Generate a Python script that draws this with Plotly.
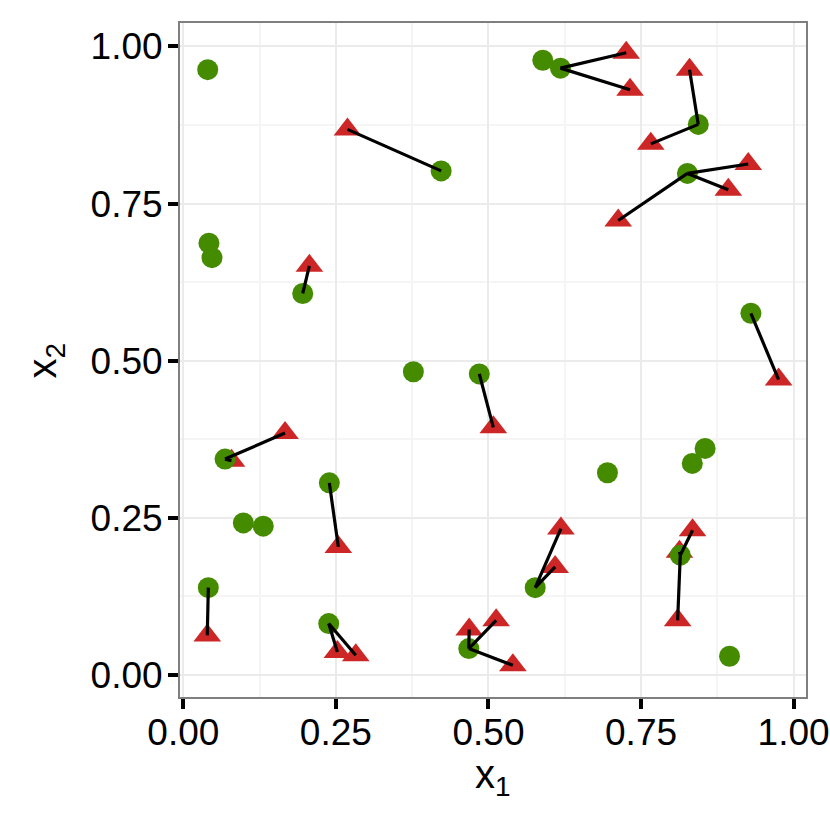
import numpy as np
from plotly import graph_objects as go

# Puntos verdes (circulos)
verde_x = [0.040, 0.4225, 0.042, 0.047, 0.1957, 0.589, 0.618, 0.8438, 0.826, 0.930,
           0.855, 0.834, 0.695, 0.5766, 0.8143, 0.895, 0.377, 0.485, 0.0684, 0.0984,
           0.131, 0.2393, 0.041, 0.2383, 0.4678]
verde_y = [0.963, 0.802, 0.687, 0.664, 0.607, 0.978, 0.9655, 0.876, 0.798, 0.5755,
           0.3605, 0.3366, 0.3217, 0.139, 0.1906, 0.0298, 0.4825, 0.479, 0.3435, 0.242,
           0.2368, 0.3057, 0.139, 0.0818, 0.042]

# Puntos rojos (triangulos)
rojo_x = [0.269, 0.2066, 0.7257, 0.732, 0.8295, 0.766, 0.9257, 0.893, 0.7126, 0.9754,
          0.6187, 0.6093, 0.8344, 0.813, 0.810, 0.540, 0.508, 0.1667, 0.079, 0.254,
          0.0393, 0.2525, 0.2826, 0.4684, 0.5126]
rojo_y = [0.868, 0.651, 0.990, 0.931, 0.963, 0.845, 0.813, 0.772, 0.723, 0.470,
          0.233, 0.172, 0.2304, 0.196, 0.087, 0.0155, 0.394, 0.385, 0.341, 0.2038,
          0.063, 0.0366, 0.0314, 0.0723, 0.087]

# Indice del punto verde al que se une cada triangulo
pareja = [1, 4, 6, 6, 7, 7, 8, 8, 8, 9,
          13, 13, 14, 14, 14, 24, 17, 18, 18, 21,
          22, 23, 23, 24, 24]

ticks = [0.00, 0.25, 0.50, 0.75, 1.00]
tick_txt = ["0.00", "0.25", "0.50", "0.75", "1.00"]

# Segmentos triangulo -> circulo
seg_x, seg_y = [], []
for i, j in enumerate(pareja):
    seg_x += [rojo_x[i], verde_x[j], None]
    seg_y += [rojo_y[i], verde_y[j], None]

fig = go.Figure()
fig.add_trace(go.Scatter(
    x=rojo_x, y=rojo_y, mode='markers',
    marker=dict(symbol='triangle-up', size=24, color='#CD2626', line=dict(width=0)),
    showlegend=False, hoverinfo='skip'
))
fig.add_trace(go.Scatter(
    x=verde_x, y=verde_y, mode='markers',
    marker=dict(symbol='circle', size=21, color='#458B00', line=dict(width=0)),
    showlegend=False, hoverinfo='skip'
))
fig.add_trace(go.Scatter(
    x=seg_x, y=seg_y, mode='lines',
    line=dict(color='black', width=3.2),
    showlegend=False, hoverinfo='skip'
))

eje = dict(
    tickmode='array', tickvals=ticks, ticktext=tick_txt,
    ticks='outside', ticklen=10, tickwidth=3.5, tickcolor='black',
    tickfont=dict(family='Liberation Sans', size=37, color='black'),
    showgrid=True, gridcolor='#EBEBEB', gridwidth=2,
    minor=dict(dtick=0.125, tick0=0, showgrid=True, gridcolor='#F5F5F5', gridwidth=1.5, ticks=''),
    showline=True, mirror=True, linecolor='#7F7F7F', linewidth=2,
    zeroline=False, automargin=False, ticklabeloverflow='allow',
)

fuente_titulo = dict(family='Liberation Sans', size=40, color='black')

fig.update_layout(
    width=830, height=830,
    margin=dict(l=180, r=24, t=23, b=133),
    plot_bgcolor='white', paper_bgcolor='white',
    xaxis=dict(eje, range=[-0.0054, 1.0203], ticklabelstandoff=-8),
    yaxis=dict(eje, range=[-0.035, 1.0373], ticklabelstandoff=-2),
    annotations=[
        dict(text='x<sub>1</sub>', xref='paper', yref='paper', x=0.5, y=-0.119,
             xanchor='center', yanchor='middle', showarrow=False, font=fuente_titulo),
        dict(text='x<sub>2</sub>', xref='paper', yref='paper', x=-0.215, y=0.5,
             xanchor='center', yanchor='middle', textangle=-90, showarrow=False,
             font=fuente_titulo),
    ],
)

# sin margen en la pagina para que la figura ocupe toda la ventana
fig.write_html("out.html", config={'displayModeBar': False},
               post_script="document.body.style.margin='0';document.body.style.overflow='hidden';")
